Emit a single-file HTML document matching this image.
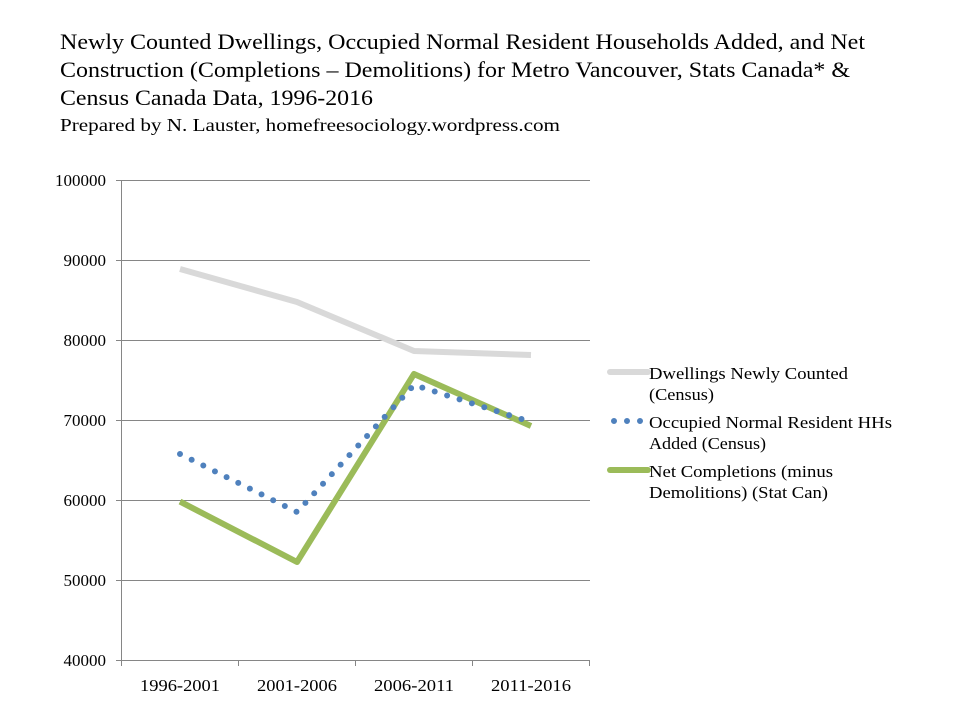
<!DOCTYPE html>
<html><head><meta charset="utf-8"><style>
body{margin:0;background:#fff;}
svg text{font-family:"Liberation Serif",serif;}
</style></head><body>
<svg width="960" height="720" viewBox="0 0 960 720" xmlns="http://www.w3.org/2000/svg">
<text x="60" y="49" font-size="22" fill="#000" textLength="805" lengthAdjust="spacingAndGlyphs">Newly Counted Dwellings,  Occupied Normal Resident Households Added, and Net</text>
<text x="60" y="77" font-size="22" fill="#000" textLength="790" lengthAdjust="spacingAndGlyphs">Construction (Completions – Demolitions) for Metro Vancouver, Stats Canada* &amp;</text>
<text x="60" y="105" font-size="22" fill="#000" textLength="313" lengthAdjust="spacingAndGlyphs">Census Canada Data, 1996-2016</text>
<text x="60" y="131" font-size="18" fill="#000" textLength="500" lengthAdjust="spacingAndGlyphs">Prepared by N. Lauster, homefreesociology.wordpress.com</text>
<g stroke="#868686" stroke-width="1">
<line x1="121" y1="180.5" x2="590" y2="180.5"/>
<line x1="121" y1="260.5" x2="590" y2="260.5"/>
<line x1="121" y1="340.5" x2="590" y2="340.5"/>
<line x1="121" y1="420.5" x2="590" y2="420.5"/>
<line x1="121" y1="500.5" x2="590" y2="500.5"/>
<line x1="121" y1="580.5" x2="590" y2="580.5"/>
<line x1="121" y1="660.5" x2="590" y2="660.5"/>
<line x1="121.5" y1="180" x2="121.5" y2="666"/>
<line x1="116" y1="180.5" x2="121" y2="180.5"/>
<line x1="116" y1="260.5" x2="121" y2="260.5"/>
<line x1="116" y1="340.5" x2="121" y2="340.5"/>
<line x1="116" y1="420.5" x2="121" y2="420.5"/>
<line x1="116" y1="500.5" x2="121" y2="500.5"/>
<line x1="116" y1="580.5" x2="121" y2="580.5"/>
<line x1="116" y1="660.5" x2="121" y2="660.5"/>
<line x1="238.5" y1="660" x2="238.5" y2="666"/>
<line x1="355.5" y1="660" x2="355.5" y2="666"/>
<line x1="472.5" y1="660" x2="472.5" y2="666"/>
<line x1="589.5" y1="660" x2="589.5" y2="666"/>
</g>
<g font-size="17" text-anchor="end" fill="#000">
<text x="106" y="186">100000</text><text x="106" y="266">90000</text><text x="106" y="346">80000</text>
<text x="106" y="426">70000</text><text x="106" y="506">60000</text><text x="106" y="586">50000</text><text x="106" y="666">40000</text>
</g>
<g font-size="17" fill="#000">
<text x="140" y="691" textLength="80" lengthAdjust="spacingAndGlyphs">1996-2001</text>
<text x="257" y="691" textLength="80" lengthAdjust="spacingAndGlyphs">2001-2006</text>
<text x="374" y="691" textLength="80" lengthAdjust="spacingAndGlyphs">2006-2011</text>
<text x="491" y="691" textLength="80" lengthAdjust="spacingAndGlyphs">2011-2016</text>
</g>
<polyline points="180,269 297,302 414,351 531,355" fill="none" stroke="#d9d9d9" stroke-width="6" stroke-linejoin="round"/>
<polyline points="180,501.6 297,562 414,374 531,426" fill="none" stroke="#9bbb59" stroke-width="6" stroke-linejoin="round"/>
<polyline points="180,454 297,512 414,385 531,422" fill="none" stroke="#4f81bd" stroke-width="6" stroke-linecap="round" stroke-dasharray="0 13"/>
<line x1="610" y1="372" x2="648" y2="372" stroke="#d9d9d9" stroke-width="6" stroke-linecap="round"/>
<line x1="614" y1="421" x2="648" y2="421" stroke="#4f81bd" stroke-width="6" stroke-linecap="round" stroke-dasharray="0 13"/>
<line x1="610" y1="470" x2="648" y2="470" stroke="#9bbb59" stroke-width="6" stroke-linecap="round"/>
<g font-size="17" fill="#000">
<text x="649" y="379" textLength="199" lengthAdjust="spacingAndGlyphs">Dwellings Newly Counted</text>
<text x="649" y="400" textLength="65" lengthAdjust="spacingAndGlyphs">(Census)</text>
<text x="649" y="428" textLength="243" lengthAdjust="spacingAndGlyphs">Occupied Normal Resident HHs</text>
<text x="649" y="449" textLength="117" lengthAdjust="spacingAndGlyphs">Added (Census)</text>
<text x="649" y="477" textLength="184" lengthAdjust="spacingAndGlyphs">Net Completions (minus</text>
<text x="649" y="498" textLength="179" lengthAdjust="spacingAndGlyphs">Demolitions) (Stat Can)</text>
</g>
</svg>
</body></html>
